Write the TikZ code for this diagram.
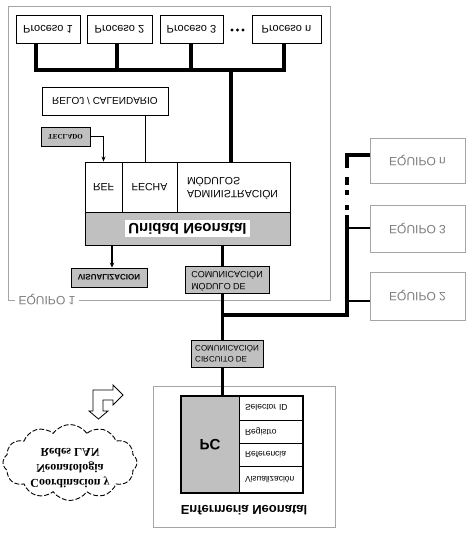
\documentclass[tikz,border=0pt]{standalone}
\usepackage{fontspec}
\usepackage{graphicx}
\setmainfont{Liberation Sans}
\newfontfamily\serifx{Liberation Serif}
\usetikzlibrary{shapes.symbols,arrows.meta,calc}
\newcommand{\fl}[1]{\scalebox{1}[-1]{#1}}
\newcommand{\mlc}[1]{\begin{tabular}{@{}c@{}}#1\end{tabular}}
\newcommand{\mll}[1]{\begin{tabular}{@{}l@{}}#1\end{tabular}}
\definecolor{gfill}{RGB}{192,192,192}
\definecolor{egray}{RGB}{165,165,165}
\definecolor{etext}{RGB}{125,125,125}
\setlength{\fboxsep}{3pt}
\begin{document}
\begin{tikzpicture}[x=1pt,y=-1pt,
 box/.style={draw,line width=0.9pt,inner sep=0pt,rectangle},
 gbox/.style={box,fill=gfill},
 ebox/.style={draw=egray,line width=0.9pt,inner sep=0pt,rectangle,text=etext},
 bus/.style={line width=3.4pt},
 trunk/.style={line width=3pt},
 branch/.style={line width=2.6pt},
 thinln/.style={line width=1pt},
 arr/.style={line width=1.6pt,-{Stealth[length=5pt,width=4.5pt]}},
 rowc/.style={box,minimum width=64,text width=52,inner xsep=6pt,align=left,font=\fontsize{8.5}{8.5}\selectfont},
]
\fill[white] (0,0) rectangle (474,549);
\useasboundingbox (0,0) rectangle (474,549);

% EQUIPO 1 frame
\node[ebox,minimum width=322,minimum height=294] (eq1) at (169,153) {};
\node[fill=white,text=etext,inner xsep=4pt,inner ysep=1pt,font=\fontsize{12}{12}\selectfont] (eq1l) at (47,300) {\fl{EQUIPO 1}};

% processes
\node[box,minimum width=64,minimum height=28,font=\fontsize{11}{11}\selectfont] (p1) at (48,29) {\fl{Proceso 1}};
\node[box,minimum width=65,minimum height=28,font=\fontsize{11}{11}\selectfont] (p2) at (119.5,29) {\fl{Proceso 2}};
\node[box,minimum width=63,minimum height=28,font=\fontsize{11}{11}\selectfont] (p3) at (191.5,29) {\fl{Proceso 3}};
\node[box,minimum width=69,minimum height=28,font=\fontsize{11}{11}\selectfont] (pn) at (286.5,29) {\fl{Proceso n}};
\foreach \x in {232,237.5,243} \fill (\x,30) circle[radius=1.6pt];

% main unit
\node[box,minimum width=37,minimum height=50,font=\fontsize{10.5}{10.5}\selectfont] (ref) at (103.5,187) {\fl{REF}};
\node[box,minimum width=55,minimum height=50,font=\fontsize{10.5}{10.5}\selectfont] (fecha) at (149.5,187) {\fl{FECHA}};
\node[box,minimum width=113,minimum height=50,text width=93,inner xsep=10pt,align=left,font=\fontsize{10.5}{12}\selectfont] (mod) at (233.5,187) {\fl{\mll{ADMINISTRACIÓN\\MÓDULOS}}};
\node[gbox,minimum width=205,minimum height=33,font=\bfseries\fontsize{15}{15}\selectfont] (unid) at (187.5,228.5) {\fl{\colorbox{white}{Unidad Neonatal}}};

% bus
\coordinate (b1) at (36,70);
\coordinate (b2) at (117,70);
\coordinate (b3) at (191,70);
\coordinate (bn) at (284,70);
\coordinate (bt) at (231,70);
\draw[bus] (b1 |- p1.south) -- (b1) -- (bn) -- (bn |- pn.south);
\draw[bus] (b2 |- p2.south) -- (b2);
\draw[bus] (b3 |- p3.south) -- (b3);
\draw[bus] (bt) -- (bt |- mod.north);

% reloj, teclado
\node[box,minimum width=126,minimum height=28,font=\fontsize{10}{10}\selectfont] (reloj) at (105,101) {\fl{RELOJ / CALENDARIO}};
\node[gbox,minimum width=49,minimum height=19,font=\serifx\bfseries\fontsize{7}{7}\selectfont] (tec) at (65.5,136.5) {\fl{TECLADO}};
\coordinate (rl) at (145,0);
\draw[thinln] (reloj.south -| rl) -- (fecha.north -| rl);
\draw[thinln,-{Stealth[length=5pt,width=4pt]}] (tec.east) -| (ref.north);

% visualizacion
\node[gbox,minimum width=76,minimum height=19,font=\bfseries\fontsize{8}{8}\selectfont] (vis) at (109,277.5) {\fl{VISUALIZACION}};
\coordinate (va) at (112,0);
\draw[arr] (unid.south -| va) -- (vis.north -| va);

% modulo de comunicacion
\node[gbox,minimum width=84,minimum height=27,font=\fontsize{9}{12}\selectfont] (mdc) at (227,279.5) {\fl{\mll{MÓDULO DE\\COMUNICACIÓN}}};

% circuito
\node[gbox,minimum width=72,minimum height=27,font=\fontsize{8}{11}\selectfont] (circ) at (227,353.5) {\fl{\mll{CIRCUITO DE\\COMUNICACIÓN}}};

% equipos
\node[ebox,minimum width=95,minimum height=45,font=\fontsize{12}{12}\selectfont] (en) at (417.5,160.5) {\fl{EQUIPO n}};
\node[ebox,minimum width=95,minimum height=47,font=\fontsize{12}{12}\selectfont] (e3) at (417.5,228.5) {\fl{EQUIPO 3}};
\node[ebox,minimum width=95,minimum height=48,font=\fontsize{12}{12}\selectfont] (e2) at (417.5,296) {\fl{EQUIPO 2}};

% enfermeria
\node[ebox,minimum width=182,minimum height=141] (enf) at (244,456.5) {};
\node[gbox,minimum width=58,minimum height=97,font=\bfseries\fontsize{15}{15}\selectfont] (pcl) at (210,444.5) {\fl{PC}};
\node[rowc,minimum height=24] (r1) at (271,408) {\fl{Selector ID}};
\node[rowc,minimum height=23] (r2) at (271,431.5) {\fl{Registro}};
\node[rowc,minimum height=23] (r3) at (271,454.5) {\fl{Referencia}};
\node[rowc,minimum height=27] (r4) at (271,479.5) {\fl{Visualización}};
\node[draw,line width=1.5pt,minimum width=122,minimum height=97,inner sep=0pt] (pc) at (242,444.5) {};
\node[font=\bfseries\fontsize{13}{13}\selectfont] (enft) at (244,510) {\fl{Enfermeria Neonatal}};

% network lines
\coordinate (J) at (222,315);
\coordinate (K) at (347,315);
\coordinate (D1) at (347,215);
\coordinate (D2) at (347,168);
\coordinate (T) at (347,155);
\coordinate (B3) at (347,228);
\coordinate (B2) at (347,301);
\draw[trunk] (J |- unid.south) -- (J |- mdc.north);
\draw[trunk] (J |- mdc.south) -- (J |- circ.north);
\draw[trunk] (J |- circ.south) -- (J |- pc.north);
\draw[bus] (J) -- (K) -- (D1);
\draw[bus,dash pattern=on 0pt off 9pt on 8pt off 5pt on 5pt off 10pt on 5pt off 5pt] (D2) -- (D1);
\draw[bus] (D2) -- (T) -- (T -| en.west);
\draw[branch] (B3) -- (B3 -| e3.west);
\draw[branch] (B2) -- (B2 -| e2.west);

% cloud
\node[cloud,cloud puffs=12,cloud puff arc=110,aspect=1.7,draw,dash pattern=on 5pt off 2pt,line width=0.9pt,minimum width=134,minimum height=76,inner sep=0pt] (cloud) at (70,462.5) {};
\node[font=\serifx\bfseries\fontsize{12}{15.5}\selectfont] (cloudt) at (70,467.5) {\fl{\mlc{Coordinacion y\\Neonatologia\\Redes LAN}}};

% bent arrow
\draw[line width=0.8pt,fill=white] (123,395) -- (113,385) -- (113,390) -- (93,390) -- (93,411) -- (89,411) -- (98.5,419) -- (108,411) -- (103,411) -- (103,400) -- (113,400) -- (113,405) -- cycle;
\end{tikzpicture}
\end{document}
